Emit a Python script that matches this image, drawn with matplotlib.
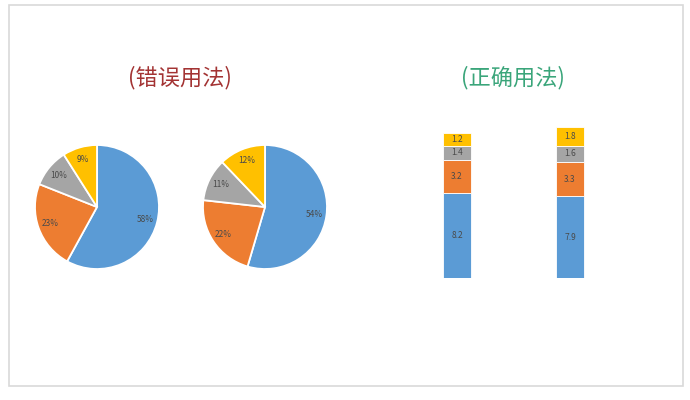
import matplotlib
matplotlib.use("Agg")
import matplotlib.pyplot as plt
from matplotlib.patches import Rectangle

plt.rcParams['font.family'] = ['Noto Sans CJK SC', 'DejaVu Sans']

# data
pie_left = [58, 23, 10, 9]
pie_right = [54, 22, 11, 12]
stack_blue = [8.2, 7.9]
stack_orange = [3.2, 3.3]
stack_gray = [1.4, 1.6]
stack_yellow = [1.2, 1.8]
titles = ['(错误用法)', '(正确用法)']

colors = ['#5B9BD5', '#ED7D31', '#A5A5A5', '#FFC000']
label_color = '#4a4a4a'

W, H = 690, 400
fig = plt.figure(figsize=(W / 100, H / 100), dpi=100)
fig.patch.set_facecolor('white')

def px(x0, y0, w, h):
    # pixel box (top-left origin) -> figure fraction
    return [x0 / W, 1 - (y0 + h) / H, w / W, h / H]

# outer frame
fig.add_artist(Rectangle((9 / W, 1 - 386 / H), 674 / W, 381 / H,
                         transform=fig.transFigure, fill=False,
                         edgecolor='#d9d9d9', lw=1.2))

fig.text(180 / W, 1 - 78 / H, titles[0], color='#a33333', fontsize=16,
         ha='center', va='center')
fig.text(513 / W, 1 - 78 / H, titles[1], color='#3aa57a', fontsize=16,
         ha='center', va='center')

def draw_pie(cx, vals):
    r = 62
    ax = fig.add_axes(px(cx - r, 207 - r, 2 * r, 2 * r))
    total = sum(vals)
    ax.pie(vals, colors=colors, startangle=90, counterclock=False,
           wedgeprops=dict(edgecolor='white', linewidth=1.3),
           autopct=lambda p: '%d%%' % round(p * total / 100),
           pctdistance=0.8,
           textprops=dict(fontsize=6, color=label_color))
    ax.set_xlim(-1, 1)
    ax.set_ylim(-1, 1)
    ax.set_aspect('equal')
    ax.axis('off')

draw_pie(97, pie_left)
draw_pie(265, pie_right)

# stacked bars
sx = 113.0
bax = fig.add_axes(px(420, 278 - 166, 187, 166))
bax.set_xlim(-(457 - 420) / sx, 1 + (607 - 570) / sx)
bax.set_ylim(0, 166 / 10.35)
pos = [0, 1]
bottom = [0, 0]
for vals, c in zip([stack_blue, stack_orange, stack_gray, stack_yellow], colors):
    bars = bax.bar(pos, vals, bottom=bottom, width=28 / sx, color=c,
                   edgecolor='white', linewidth=0.6)
    bax.bar_label(bars, labels=['%.1f' % v for v in vals], label_type='center',
                  fontsize=6, color=label_color)
    bottom = [b + v for b, v in zip(bottom, vals)]
bax.axis('off')

fig.savefig('out.png', dpi=100, facecolor='white')
